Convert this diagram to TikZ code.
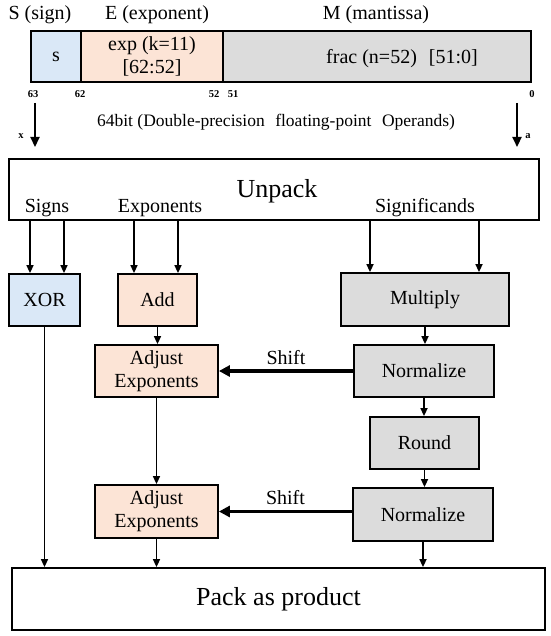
\documentclass[tikz,border=0pt]{standalone}
\usepackage{fontspec}
\setmainfont{Liberation Serif}
\usetikzlibrary{arrows.meta,calc}
\definecolor{cblue}{RGB}{218,232,247}
\definecolor{cpeach}{RGB}{252,228,214}
\definecolor{cgrey}{RGB}{220,220,220}
\begin{document}
\begin{tikzpicture}[x=1pt,y=-1pt,
  box/.style={draw, line width=1.8pt, inner sep=0pt, align=center, font=\fontsize{20}{23}\selectfont},
  lbl/.style={inner sep=0pt, font=\fontsize{20}{23}\selectfont},
  big/.style={inner sep=0pt, font=\fontsize{26}{30}\selectfont},
  bit/.style={inner sep=0pt, font=\fontsize{10.5}{12}\selectfont\bfseries},
  conn/.style={line width=1.6pt, -{Triangle[length=8pt,width=7pt]}},
  inarr/.style={line width=2.2pt, -{Triangle[length=10pt,width=9pt]}},
  shiftarr/.style={line width=3.2pt, -{Triangle[length=11pt,width=11pt]}}]
\useasboundingbox (0,0) rectangle (550,636);

% header labels
\node[lbl] (slbl) at (40,15) {S (sign)};
\node[lbl] (elbl) at (157,15) {E (exponent)};
\node[lbl] (mlbl) at (376,15) {M (mantissa)};

% bit fields
\node[box, fill=cblue, minimum width=50pt, minimum height=51pt] (sbox) at (56,56.5) {s};
\node[box, fill=cpeach, minimum width=142pt, minimum height=51pt] (expbox) at (152,56.5) {exp (k=11)\\{[62:52]}};
\node[box, fill=cgrey, minimum width=308pt, minimum height=51pt] (fracbox) at (377,56.5) {};
\node[lbl] (fractext) at (402,59) {frac (n=52)\hspace{0.6em}[51:0]};

% bit numbers
\node[bit] (b63) at (33,94) {63};
\node[bit] (b62) at (80,94) {62};
\node[bit] (b52) at (214,94) {52};
\node[bit] (b51) at (233,94) {51};
\node[bit] (b0) at (532,94) {0};

% operand arrows
\coordinate (xs) at (35,103);
\coordinate (xe) at (35,147);
\coordinate (as) at (517,103);
\coordinate (ae) at (517,147);
\draw[inarr] (xs) -- (xe);
\draw[inarr] (as) -- (ae);
\node[bit] (xl) at (21,136) {x};
\node[bit] (al) at (528,136) {a};
\node[inner sep=0pt, font=\fontsize{17.5}{20}\selectfont] (optext) at (276,122) {64bit (Double-precision\hspace{0.6em}floating-point\hspace{0.6em}Operands)};

% unpack
\node[box, minimum width=530pt, minimum height=61pt] (unpack) at (274,189.5) {};
\node[big, anchor=base] (unpacklbl) at (277,197) {Unpack};
\node[lbl, anchor=base] (signs) at (47,212) {Signs};
\node[lbl, anchor=base] (exps) at (160,212) {Exponents};
\node[lbl, anchor=base] (sigs) at (425,212) {Significands};

% first row
\node[box, fill=cblue, minimum width=71pt, minimum height=52pt] (xor) at (44.5,300) {XOR};
\node[box, fill=cpeach, minimum width=79pt, minimum height=52pt] (add) at (157.5,300) {Add};
\node[box, fill=cgrey, minimum width=168pt, minimum height=53pt] (mul) at (425,299.5) {Multiply};

% second row
\node[box, fill=cpeach, minimum width=123pt, minimum height=52pt] (adj1) at (156.5,371) {Adjust\\Exponents};
\node[box, fill=cgrey, minimum width=140pt, minimum height=52pt] (norm1) at (424,371) {Normalize};
\node[box, fill=cgrey, minimum width=109pt, minimum height=52pt] (round) at (424.5,443) {Round};
\node[box, fill=cpeach, minimum width=123pt, minimum height=53pt] (adj2) at (156.5,511.5) {Adjust\\Exponents};
\node[box, fill=cgrey, minimum width=140pt, minimum height=53pt] (norm2) at (423,514.5) {Normalize};

% pack
\node[box, minimum width=533pt, minimum height=62pt, font=\fontsize{26}{30}\selectfont] (pack) at (278.5,599) {Pack as product};

% connectors from unpack
\draw[conn] ($(unpack.south -| xor.north)+(-14.5,0)$) -- ($(xor.north)+(-14.5,0)$);
\draw[conn] ($(unpack.south -| xor.north)+(19.5,0)$) -- ($(xor.north)+(19.5,0)$);
\draw[conn] ($(unpack.south -| add.north)+(-23.5,0)$) -- ($(add.north)+(-23.5,0)$);
\draw[conn] ($(unpack.south -| add.north)+(20.5,0)$) -- ($(add.north)+(20.5,0)$);
\draw[conn] ($(unpack.south -| mul.north)+(-55,0)$) -- ($(mul.north)+(-55,0)$);
\draw[conn] ($(unpack.south -| mul.north)+(54,0)$) -- ($(mul.north)+(54,0)$);

% internal connectors
\draw[conn] (xor.south) -- (xor.south |- pack.north);
\draw[conn] (add.south) -- (add.south |- adj1.north);
\draw[conn] (mul.south) -- (mul.south |- norm1.north);
\draw[conn] (adj1.south) -- (adj1.south |- adj2.north);
\draw[conn] (norm1.south) -- (norm1.south |- round.north);
\draw[conn] (round.south) -- (round.south |- norm2.north);
\draw[conn] (adj2.south) -- (adj2.south |- pack.north);
\draw[conn] (norm2.south) -- (norm2.south |- pack.north);

% shift arrows
\draw[shiftarr] (norm1.west) -- node[lbl, midway, above=5pt] (shift1) {Shift} (adj1.east);
\draw[shiftarr] (norm2.west |- adj2.east) -- node[lbl, midway, above=5pt] (shift2) {Shift} (adj2.east);
\end{tikzpicture}
\end{document}
